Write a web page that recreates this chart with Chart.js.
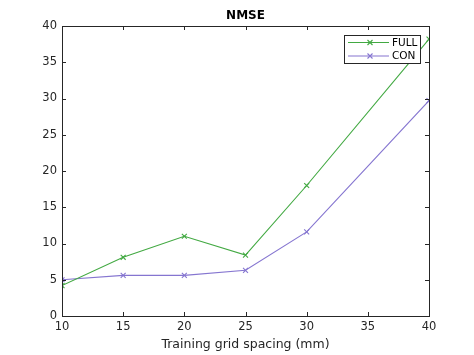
<!DOCTYPE html>
<html><head><meta charset="utf-8">
<script src="https://cdn.jsdelivr.net/npm/chart.js@4/dist/chart.umd.min.js"></script>
<style>html,body{margin:0;padding:0;background:#fff}#wrap{width:474px;height:355px}</style>
</head><body><div id="wrap"><canvas id="c" width="474" height="355"></canvas></div>
<script>
const spacing = [10, 15, 20, 25, 30, 40];
const fullValues = [4.2, 8.1, 11.0, 8.4, 18.0, 38.2];
const conValues = [5.0, 5.6, 5.6, 6.3, 11.6, 29.7];
const xTicks = [10, 15, 20, 25, 30, 35, 40];
const yTicks = [0, 5, 10, 15, 20, 25, 30, 35, 40];
const seriesNames = ['FULL', 'CON'];
const colors = ['#42a942', '#8575d0'];
const axisColor = '#262626';
const fontFam = '"DejaVu Sans", sans-serif';

function pts(v){ return spacing.map((x,i)=>({x:x,y:v[i]})); }

const framePlugin = {
  id:'frame',
  afterDraw(chart){
    const ctx = chart.ctx, a = chart.chartArea;
    const xs = chart.scales.x, ys = chart.scales.y;
    ctx.save();
    ctx.strokeStyle = axisColor; ctx.lineWidth = 1;
    ctx.strokeRect(Math.round(a.left)+0.5, Math.round(a.top)+0.5, Math.round(a.right-a.left), Math.round(a.bottom-a.top));
    const L = 4;
    ctx.beginPath();
    xTicks.forEach(t=>{
      const px = Math.round(xs.getPixelForValue(t))+0.5;
      ctx.moveTo(px, a.bottom); ctx.lineTo(px, a.bottom-L);
      ctx.moveTo(px, a.top); ctx.lineTo(px, a.top+L);
    });
    yTicks.forEach(t=>{
      const py = Math.round(ys.getPixelForValue(t))+0.5;
      ctx.moveTo(a.left, py); ctx.lineTo(a.left+L, py);
      ctx.moveTo(a.right, py); ctx.lineTo(a.right-L, py);
    });
    ctx.stroke();
    // title
    ctx.fillStyle = '#000';
    ctx.font = 'bold 12px ' + fontFam;
    ctx.textAlign = 'center'; ctx.textBaseline = 'middle';
    ctx.fillText('NMSE', (a.left+a.right)/2, a.top-10);
    // legend
    const bx = Math.round(a.right)-85, by = Math.round(a.top)+9, bw = 76, bh = 28;
    ctx.fillStyle = '#fff';
    ctx.fillRect(bx, by, bw, bh);
    ctx.strokeStyle = axisColor;
    ctx.strokeRect(bx+0.5, by+0.5, bw, bh);
    ctx.font = '10.5px ' + fontFam;
    ctx.textAlign = 'left';
    seriesNames.forEach((n,i)=>{
      const ly = by + 7.5 + i*13.5;
      ctx.strokeStyle = colors[i]; ctx.lineWidth = 1.1;
      ctx.beginPath(); ctx.moveTo(bx+4, ly); ctx.lineTo(bx+45, ly); ctx.stroke();
      const mx = bx+26, r = 2.5;
      ctx.beginPath(); ctx.moveTo(mx-r, ly-r); ctx.lineTo(mx+r, ly+r); ctx.moveTo(mx-r, ly+r); ctx.lineTo(mx+r, ly-r); ctx.stroke();
      ctx.fillStyle = '#000';
      ctx.fillText(n, bx+48, ly+0.5);
    });
    ctx.restore();
  }
};

new Chart(document.getElementById('c'), {
  type:'line',
  data:{ datasets:[
    {label:seriesNames[0], data:pts(fullValues), borderColor:colors[0], backgroundColor:colors[0], borderWidth:1.1, pointStyle:'crossRot', pointRadius:3.5, pointBorderWidth:1.1, tension:0},
    {label:seriesNames[1], data:pts(conValues), borderColor:colors[1], backgroundColor:colors[1], borderWidth:1.1, pointStyle:'crossRot', pointRadius:3.5, pointBorderWidth:1.1, tension:0}
  ]},
  options:{
    responsive:false, animation:false,
    layout:{padding:{top:26, right:45, left:0, bottom:0}},
    plugins:{legend:{display:false}, title:{display:false}, tooltip:{enabled:false}},
    scales:{
      x:{type:'linear', min:10, max:40,
         afterBuildTicks(s){ s.ticks = xTicks.map(v=>({value:v})); },
         afterFit(s){ s.height = 39; },
         grid:{display:false, drawTicks:false}, border:{display:false},
         ticks:{color:axisColor, font:{family:fontFam, size:11.5}, padding:4, maxRotation:0},
         title:{display:true, text:'Training grid spacing (mm)', color:axisColor, font:{family:fontFam, size:12.5}, padding:{top:0,bottom:3}}
      },
      y:{type:'linear', min:0, max:40,
         afterBuildTicks(s){ s.ticks = yTicks.map(v=>({value:v})); },
         afterFit(s){ s.width = 62; },
         grid:{display:false, drawTicks:false}, border:{display:false},
         ticks:{color:axisColor, font:{family:fontFam, size:11.5}, padding:5}
      }
    }
  },
  plugins:[framePlugin]
});
</script></body></html>
